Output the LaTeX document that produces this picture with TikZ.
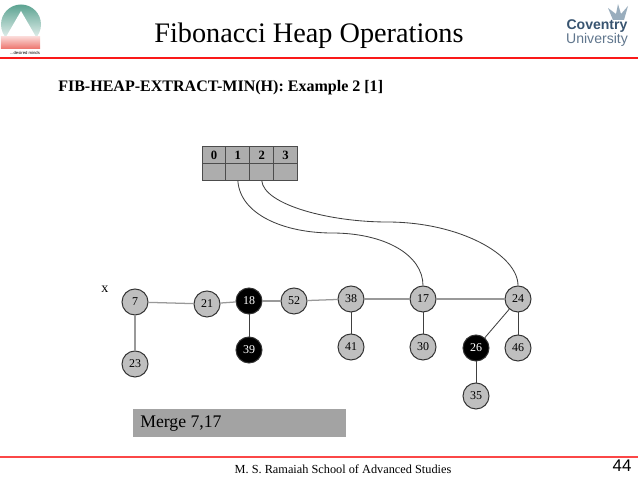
\documentclass[tikz,border=0pt]{standalone}
\usepackage{fontspec}
\setmainfont{Liberation Serif}
\newfontfamily\arialfont{Liberation Sans}
\usetikzlibrary{shadings}
\definecolor{cgray}{rgb}{0.75, 0.75, 0.75}
\definecolor{ccell}{rgb}{0.68, 0.68, 0.68}
\definecolor{cbar}{rgb}{0.64, 0.64, 0.64}
\definecolor{cline}{rgb}{0.98, 0.1, 0.1}
\definecolor{cgreen}{rgb}{0.36, 0.64, 0.57}
\definecolor{cpink}{rgb}{0.93, 0.45, 0.42}
\definecolor{cnavy}{rgb}{0.22, 0.33, 0.44}
\definecolor{ccrest}{rgb}{0.6, 0.68, 0.74}
\tikzset{
    heapnode/.style={circle, draw=black!80, fill=cgray, line width=0.7pt, minimum size=18.5pt, inner sep=0pt, font=\fontsize{8.5}{10}\selectfont},
    marknode/.style={heapnode, fill=black, text=white},
    cell/.style={rectangle, draw=black!70, fill=ccell, line width=0.7pt, minimum width=16.96pt, minimum height=11.5pt, inner sep=0pt, font=\fontsize{9}{10}\selectfont\bfseries},
    edge/.style={draw=black!40, line width=0.9pt},
    pointer/.style={draw=black!75, line width=0.6pt},
}
\begin{document}
\begin{tikzpicture}[x=0.25mm, y=-0.25mm]
\useasboundingbox (0, 0) rectangle (638, 478);

% logos
\shade [top color=cgreen, bottom color=white] (21, 24.5) circle (20);
\fill [white] (21, 11) -- (36, 37) -- (6, 37) -- cycle;
\shade [top color=cpink!30, bottom color=cpink] (1, 37) rectangle (40, 49);
\node (tagline) at (25, 52.5) {\fontsize{3}{4}\selectfont\arialfont ...desired minds};

\fill [ccrest] (613, 20) -- (608, 8) -- (616, 14) -- (618, 4) -- (621, 14) -- (628, 6) -- (624, 20) -- cycle;
\node [text=cnavy, inner sep=0pt] (coventry) at (597, 26.5) {\fontsize{10}{12}\selectfont\arialfont\bfseries Coventry};
\node [text=cnavy!80, inner sep=0pt] (university) at (597, 40) {\fontsize{10}{12}\selectfont\arialfont University};

% title
\node (title) at (309, 36) {\fontsize{20.1}{24}\selectfont Fibonacci Heap Operations};
\draw [cline, line width=1.4pt] (0, 58) -- (638, 58);
\node [right, inner sep=0pt] (subtitle) at (58, 88) {\fontsize{11.4}{13}\selectfont\bfseries FIB-HEAP-EXTRACT-MIN(H): Example 2 [1]};

% array
\foreach \i/\x in {0/214, 1/237.85, 2/261.7, 3/285.55} {
    \node [cell] (top\i) at (\x, 155) {\i};
    \node [cell] (bot\i) at (\x, 172) {};
}

% heap nodes
\foreach \name/\x/\y in {7/135/302, 21/207/304, 52/294/301, 38/351/299, 17/423/299, 24/518/299, 23/135/364, 41/351/347, 30/423/347, 46/518/348, 35/476/396} {
    \node [heapnode] (n\name) at (\x, \y) {\name};
}
\foreach \name/\x/\y in {18/249/301, 39/249/350, 26/476/348} {
    \node [marknode] (n\name) at (\x, \y) {\name};
}
\node (xlabel) at (105, 289) {\fontsize{10}{12}\selectfont x};

% root list and children
\draw [edge] (n7) -- (n21);
\draw [edge] (n21) -- (n18);
\draw [edge] (n18) -- (n52);
\draw [edge] (n52) -- (n38);
\draw [edge] (n38) -- (n17);
\draw [edge] (n17) -- (n24);
\draw [edge] (n7) -- (n23);
\draw [pointer] (n18) -- (n39);
\draw [pointer] (n38) -- (n41);
\draw [pointer] (n17) -- (n30);
\draw [pointer] (n24) -- (n26);
\draw [pointer] (n24) -- (n46);
\draw [pointer] (n26) -- (n35);

% array pointers
\coordinate (mid1) at (332, 233);
\coordinate (mid2) at (387, 222);
\draw [pointer] (bot1.south) .. controls (240, 215) and (285, 233) .. (mid1) .. controls (385, 233) and (423, 255) .. (n17.north);
\draw [pointer] (bot2.south) .. controls (264, 205) and (330, 222) .. (mid2) .. controls (460, 222) and (518, 255) .. (n24.north);

% message
\fill [cbar] (133, 409) rectangle (346, 437);
\node [right, inner sep=0pt] (merge) at (140, 424) {\fontsize{12.6}{15}\selectfont Merge 7,17};

% footer
\draw [cline!80!white, line width=1.4pt] (0, 457) -- (638, 457);
\node (footer) at (343, 469) {\fontsize{8.75}{11}\selectfont M. S. Ramaiah School of Advanced Studies};
\node (pagenum) at (622, 466) {\fontsize{12}{15}\selectfont\arialfont 44};
\end{tikzpicture}
\end{document}
